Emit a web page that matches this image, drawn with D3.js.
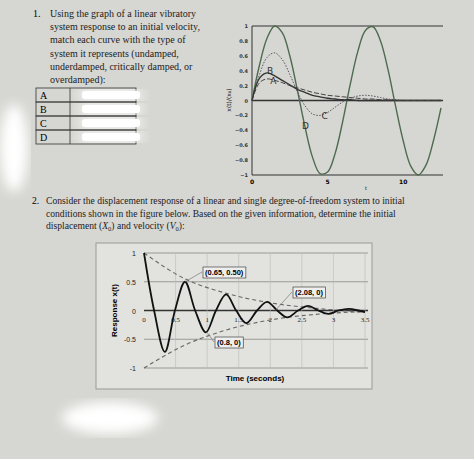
<!DOCTYPE html>
<html><head><meta charset="utf-8">
<script src="https://cdn.jsdelivr.net/npm/d3@7"></script>
<style>body{margin:0;background:#d8d8d4}svg{display:block}</style>
</head><body><div id="chart"></div>
<script>
// ---- data ----
const tTop = [0,0.5,1,1.5,2,2.5,3,3.5,4,4.5,5,5.5,6,6.5,7,7.5,8,8.5,9,9.5,10,10.5,11,11.5,12,12.5];
const curveD = [0,.48,.84,1.0,.91,.60,.14,-.35,-.76,-.98,-.96,-.71,-.28,.22,.66,.94,.99,.80,.41,-.08,-.54,-.88,-1.0,-.87,-.54,-.1];
const curveC = [0,.35,.58,.64,.55,.35,.12,-.07,-.18,-.2,-.16,-.09,-.02,.03,.06,.07,.06,.04,.02,.01,0,0,0,0,0,0];
const curveB = [0,.30,.37,.33,.27,.21,.15,.11,.07,.05,.03,.02,.01,.01,0,0,0,0,0,0,0,0,0,0,0,0];
const curveA = [0,.24,.29,.27,.24,.20,.17,.14,.11,.09,.07,.06,.05,.04,.03,.02,.02,.01,.01,0,0,0,0,0,0,0];
const topLabels = [{k:'A',t:1.2,v:0.27},{k:'B',t:1.0,v:0.41},{k:'C',t:4.6,v:-0.2},{k:'D',t:3.3,v:-0.33}];
const tableRows = ['A','B','C','D'];

const tBot = [0,.16,.33,.49,.65,.81,.98,1.14,1.3,1.46,1.62,1.79,1.95,2.11,2.27,2.44,2.6,2.76,2.92,3.08,3.24,3.4,3.5];
const resp = [1,0,-.72,0,.5,0,-.38,0,.28,0,-.22,0,.15,0,-.12,0,.08,0,-.06,0,.03,0,-.03];
const envT = [0,0.65,1.3,2.08,2.8,3.5];
const envUp = [1,.55,.3,.12,.03,-.03];
const envLo = [-1,-.6,-.34,-.15,-.06,-.02];
const callouts = [{txt:'(0.65, 0.50)',t:0.65,v:0.5,lx:202,ly:272},{txt:'(2.08, 0)',t:2.08,v:0,lx:292,ly:292},{txt:'(0.8, 0)',t:1.0,v:-0.38,lx:214,ly:342}];

const W = 474, H = 459;
const svg = d3.select('#chart').append('svg').attr('width', W).attr('height', H);
svg.append('rect').attr('width', W).attr('height', H).attr('fill', '#d6d6d2');

// blur for redaction smudges
const defs = svg.append('defs');
defs.append('filter').attr('id','blur').append('feGaussianBlur').attr('stdDeviation', 6);

const serif = 'Liberation Serif, serif';

// ---- question 1 text ----
const q1 = ['Using the graph of a linear vibratory','system response to an initial velocity,','match each curve with the type of','system   it   represents   (undamped,','underdamped, critically damped, or','overdamped):'];
svg.append('text').attr('x', 33).attr('y', 17).attr('font-family', serif).attr('font-size', 10).text('1.');
svg.selectAll('.q1').data(q1).join('text')
  .attr('x', 50).attr('y', (d, i) => 17 + i * 13.2)
  .attr('font-family', serif).attr('font-size', 10).attr('fill', '#222').text(d => d);

// table
const tb = svg.append('g');
tableRows.forEach((r, i) => {
  const y = 88 + i * 14;
  tb.append('rect').attr('x', 36).attr('y', y).attr('width', 100).attr('height', 14).attr('fill', 'none').attr('stroke', '#333').attr('stroke-width', 0.8);
  tb.append('line').attr('x1', 70).attr('x2', 70).attr('y1', y).attr('y2', y + 14).attr('stroke', '#333').attr('stroke-width', 0.8);
  tb.append('text').attr('x', 40).attr('y', y + 11).attr('font-family', serif).attr('font-size', 10).text(r);
  tb.append('rect').attr('x', 80).attr('y', y + 2).attr('width', 62).attr('height', 10).attr('rx', 4).attr('fill', '#fff').attr('filter', 'url(#blur)');
  tb.append('rect').attr('x', 82).attr('y', y + 3).attr('width', 58).attr('height', 8).attr('rx', 3).attr('fill', '#fff');
});
svg.append('ellipse').attr('cx', 14).attr('cy', 148).attr('rx', 14).attr('ry', 44).attr('fill', '#fff').attr('filter', 'url(#blur)');
svg.append('ellipse').attr('cx', 110).attr('cy', 418).attr('rx', 48).attr('ry', 16).attr('fill', '#fff').attr('filter', 'url(#blur)');

// ---- top chart ----
const x1 = d3.scaleLinear().domain([0, 12.5]).range([252, 441]);
const y1 = d3.scaleLinear().domain([-1, 1]).range([175, 26]);
const g1 = svg.append('g');
g1.append('line').attr('x1', 252).attr('x2', 443).attr('y1', y1(1)).attr('y2', y1(1)).attr('stroke', '#333');
g1.append('line').attr('x1', 252).attr('x2', 443).attr('y1', y1(-1)).attr('y2', y1(-1)).attr('stroke', '#333');
g1.append('line').attr('x1', 252).attr('x2', 443).attr('y1', y1(0)).attr('y2', y1(0)).attr('stroke', '#333').attr('stroke-width', 1.3);
g1.append('line').attr('x1', 252).attr('x2', 252).attr('y1', y1(1)).attr('y2', y1(-1)).attr('stroke', '#333');
g1.selectAll('.yt').data(d3.range(-1, 1.01, 0.2)).join('text')
  .attr('x', 248).attr('y', d => y1(d) + 2).attr('text-anchor', 'end')
  .attr('font-family', 'DejaVu Sans').attr('font-size', 5).attr('font-weight', 'bold').attr('fill', '#333')
  .text(d => Math.abs(d) < 1e-9 ? '0' : (Math.abs(d) === 1 ? d3.format('d')(d) : d3.format('.1f')(d).replace('0.', '0.')));
g1.selectAll('.xt').data([0, 5, 10]).join('text')
  .attr('x', d => x1(d)).attr('y', 184).attr('text-anchor', 'middle')
  .attr('font-family', 'DejaVu Sans').attr('font-size', 6).attr('font-weight', 'bold').text(d => d);
g1.append('text').attr('x', 365).attr('y', 190).attr('font-family', 'DejaVu Sans').attr('font-size', 5).text('t');
g1.append('text').attr('transform', 'translate(231,100) rotate(-90)').attr('text-anchor', 'middle')
  .attr('font-family', 'DejaVu Sans').attr('font-size', 6).text('x(t)/(x\u2080)');

const line1 = vals => d3.line().x((d, i) => x1(tTop[i])).y(d => y1(d)).curve(d3.curveCatmullRom)(vals);
g1.append('path').attr('d', line1(curveD)).attr('fill', 'none').attr('stroke', '#4f6b4f').attr('stroke-width', 1.4);
g1.append('path').attr('d', line1(curveC)).attr('fill', 'none').attr('stroke', '#556').attr('stroke-width', 1).attr('stroke-dasharray', '1.5,1.5');
g1.append('path').attr('d', line1(curveB)).attr('fill', 'none').attr('stroke', '#333').attr('stroke-width', 1.3);
g1.append('path').attr('d', line1(curveA)).attr('fill', 'none').attr('stroke', '#444').attr('stroke-width', 1).attr('stroke-dasharray', '5,2');
g1.selectAll('.lab').data(topLabels).join('text')
  .attr('x', d => x1(d.t)).attr('y', d => y1(d.v) + 4)
  .attr('font-family', 'DejaVu Sans').attr('font-size', 9).attr('fill', '#333').text(d => d.k);

// ---- question 2 ----
const q2 = ['Consider the displacement response of a linear and single degree-of-freedom system to initial','conditions shown in the figure below. Based on the given information, determine the initial'];
svg.append('text').attr('x', 32).attr('y', 204).attr('font-family', serif).attr('font-size', 9.6).text('2.');
svg.selectAll('.q2').data(q2).join('text')
  .attr('x', 46).attr('y', (d, i) => 204 + i * 12.5).attr('font-family', serif).attr('font-size', 9.6).attr('fill', '#222').text(d => d);
svg.append('text').attr('x', 46).attr('y', 229).attr('font-family', serif).attr('font-size', 9.6).attr('fill', '#222')
  .html('displacement (<tspan font-style="italic">X</tspan><tspan font-size="6.5" dy="2">0</tspan><tspan dy="-2">) and velocity (</tspan><tspan font-style="italic">V</tspan><tspan font-size="6.5" dy="2">0</tspan><tspan dy="-2">):</tspan>');

// ---- bottom chart ----
const x2 = d3.scaleLinear().domain([0, 3.5]).range([144, 365]);
const y2 = d3.scaleLinear().domain([-1, 1]).range([368, 253]);
const g2 = svg.append('g');
g2.append('rect').attr('x', 96).attr('y', 243).attr('width', 276).attr('height', 146).attr('fill', '#e2e2de').attr('stroke', '#999');
g2.selectAll('.gy').data([-1, -0.5, 0, 0.5, 1]).join('line')
  .attr('x1', 144).attr('x2', 368).attr('y1', d => y2(d)).attr('y2', d => y2(d))
  .attr('stroke', d => d === 0 ? '#333' : '#888').attr('stroke-width', d => d === 0 ? 1.3 : 0.8);
g2.selectAll('.gx').data([0.5, 1, 1.5, 2, 2.5, 3, 3.5]).join('line')
  .attr('x1', d => x2(d)).attr('x2', d => x2(d)).attr('y1', y2(1)).attr('y2', y2(-1)).attr('stroke', '#bbb').attr('stroke-width', 0.6);
g2.selectAll('.yl').data([1, 0.5, 0, -0.5, -1]).join('text')
  .attr('x', 136).attr('y', d => y2(d) + 3).attr('text-anchor', 'end')
  .attr('font-family', 'Liberation Sans').attr('font-size', 7).attr('fill', '#222').text(d => d);
g2.selectAll('.xl').data([0, 0.5, 1, 1.5, 2, 2.5, 3, 3.5]).join('text')
  .attr('x', d => x2(d)).attr('y', y2(0) + 11).attr('text-anchor', 'middle')
  .attr('font-family', 'Liberation Serif').attr('font-size', 7).attr('fill', '#222').text(d => d);
g2.append('text').attr('transform', 'translate(117,' + y2(0) + ') rotate(-90)').attr('text-anchor', 'middle')
  .attr('font-family', 'Liberation Sans').attr('font-weight', 'bold').attr('font-size', 8).text('Response x(t)');
g2.append('text').attr('x', 255).attr('y', 381).attr('text-anchor', 'middle')
  .attr('font-family', 'Liberation Sans').attr('font-weight', 'bold').attr('font-size', 8).text('Time (seconds)');

const env = d3.line().x((d, i) => x2(envT[i])).y(d => y2(d)).curve(d3.curveMonotoneX);
g2.append('path').attr('d', env(envUp)).attr('fill', 'none').attr('stroke', '#666').attr('stroke-width', 1.1).attr('stroke-dasharray', '4,3');
g2.append('path').attr('d', env(envLo)).attr('fill', 'none').attr('stroke', '#666').attr('stroke-width', 1.1).attr('stroke-dasharray', '4,3');
g2.append('path')
  .attr('d', d3.line().x((d, i) => x2(tBot[i])).y(d => y2(d)).curve(d3.curveCatmullRom)(resp))
  .attr('fill', 'none').attr('stroke', '#111').attr('stroke-width', 1.8);

callouts.forEach(c => {
  g2.append('line').attr('x1', x2(c.t)).attr('y1', y2(c.v)).attr('x2', c.lx).attr('y2', c.ly).attr('stroke', '#777').attr('stroke-width', 0.7);
  const tx = g2.append('text').attr('x', c.lx + 3).attr('y', c.ly + 3)
    .attr('font-family', 'Liberation Sans').attr('font-weight', 'bold').attr('font-size', 7.5).text(c.txt);
  const bb = tx.node().getBBox();
  g2.insert('rect', () => tx.node()).attr('x', bb.x - 2).attr('y', bb.y - 1).attr('width', bb.width + 4).attr('height', bb.height + 2)
    .attr('fill', '#eee').attr('stroke', '#444').attr('stroke-width', 0.7);
});
</script></body></html>
